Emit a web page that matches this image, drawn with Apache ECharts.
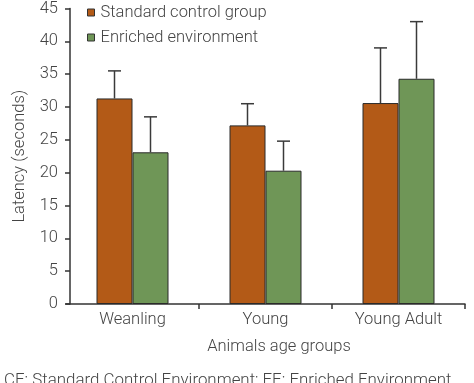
<!DOCTYPE html>
<html>
<head>
<meta charset="utf-8">
<script src="https://cdn.jsdelivr.net/npm/echarts@6/dist/echarts.min.js"></script>
<style>html,body{margin:0;padding:0;background:#fff}#c{width:474px;height:383px}</style>
</head>
<body>
<div id="c"></div>
<script>
const categories = ['Weanling', 'Young', 'Young Adult'];
const seriesNames = ['Standard control group', 'Enriched environment'];
const controlMeans = [31.3, 27.2, 30.6];
const controlErrors = [4.2, 3.3, 8.4];
const enrichedMeans = [23.1, 20.3, 34.3];
const enrichedErrors = [5.4, 4.5, 8.7];
const yTicks = [0, 5, 10, 15, 20, 25, 30, 35, 40, 45];
const xAxisTitle = 'Animals age groups';
const yAxisTitle = 'Latency (seconds)';
const caption = 'CE: Standard Control Environment; EE: Enriched Environment.';

const FONT = 'Roboto, "Noto Sans", sans-serif';
const TXT = '#444444';
const FW = 300;
const BAR_W = 36;
const colors = ['#B35A17', '#6F9657'];

const chart = echarts.init(document.getElementById('c'), null, {renderer: 'canvas'});

function errSeries(means, errs, side) {
  return {
    type: 'custom',
    silent: true,
    z: 1,
    data: means.map((m, i) => [i, m, m + errs[i]]),
    renderItem: function (params, api) {
      const c0 = api.coord([api.value(0), api.value(1)]);
      const c1 = api.coord([api.value(0), api.value(2)]);
      const x = c0[0] + side * BAR_W / 2;
      const cap = 6.5;
      const st = {stroke: '#3a3a3a', lineWidth: 1.5};
      return {
        type: 'group',
        children: [
          {type: 'line', shape: {x1: x, y1: c0[1], x2: x, y2: c1[1]}, style: st},
          {type: 'line', shape: {x1: x - cap, y1: c1[1], x2: x + cap, y2: c1[1]}, style: st}
        ]
      };
    }
  };
}

chart.setOption({
  animation: false,
  textStyle: {fontFamily: FONT},
  grid: {left: 66, right: 9, top: 6, bottom: 79, containLabel: false},
  legend: {
    orient: 'vertical',
    left: 82, top: -1,
    itemWidth: 7, itemHeight: 7, itemGap: 8,
    icon: 'rect',
    textStyle: {fontFamily: FONT, fontSize: 16.5, fontWeight: FW, color: TXT, padding: [0, 0, 0, 1]},
    data: seriesNames.map((n, i) => ({name: n, itemStyle: {color: colors[i], borderColor: '#333', borderWidth: 1}}))
  },
  title: [
    {text: xAxisTitle, left: 274, top: 333, textAlign: 'center',
     textStyle: {fontFamily: FONT, fontSize: 16.5, fontWeight: FW, color: TXT}},
    {text: caption, left: -1, top: 367,
     textStyle: {fontFamily: FONT, fontSize: 16.9, fontWeight: FW, color: TXT}}
  ],
  xAxis: {
    type: 'category',
    data: categories,
    boundaryGap: true,
    axisLine: {lineStyle: {color: '#333', width: 1.5}},
    axisTick: {show: true, length: 5, lineStyle: {color: '#333', width: 1.5},
      interval: function (i) { return i > 0; }},
    axisLabel: {fontFamily: FONT, fontSize: 16.5, fontWeight: FW, color: TXT, margin: 7}
  },
  yAxis: {
    type: 'value',
    min: 0, max: 45, interval: 5,
    offset: -4,
    name: yAxisTitle,
    nameLocation: 'middle',
    nameGap: 34,
    nameTextStyle: {fontFamily: FONT, fontSize: 16.5, fontWeight: FW, color: TXT},
    splitLine: {show: false},
    axisLine: {show: true, lineStyle: {color: '#333', width: 1.5}},
    axisTick: {show: true, length: 5, lineStyle: {color: '#333', width: 1.5}},
    axisLabel: {fontFamily: FONT, fontSize: 16.5, fontWeight: FW, color: TXT, margin: 12,
      formatter: v => yTicks.includes(v) ? String(v) : ''}
  },
  series: [
    {name: seriesNames[0], type: 'bar', data: controlMeans, barWidth: BAR_W, barGap: '0%', z: 2,
     itemStyle: {color: colors[0], borderColor: '#2a2a2a', borderWidth: 1}},
    {name: seriesNames[1], type: 'bar', data: enrichedMeans, barWidth: BAR_W, barGap: '0%', z: 2,
     itemStyle: {color: colors[1], borderColor: '#2a2a2a', borderWidth: 1}},
    errSeries(controlMeans, controlErrors, -1),
    errSeries(enrichedMeans, enrichedErrors, 1)
  ]
});
</script>
</body>
</html>
